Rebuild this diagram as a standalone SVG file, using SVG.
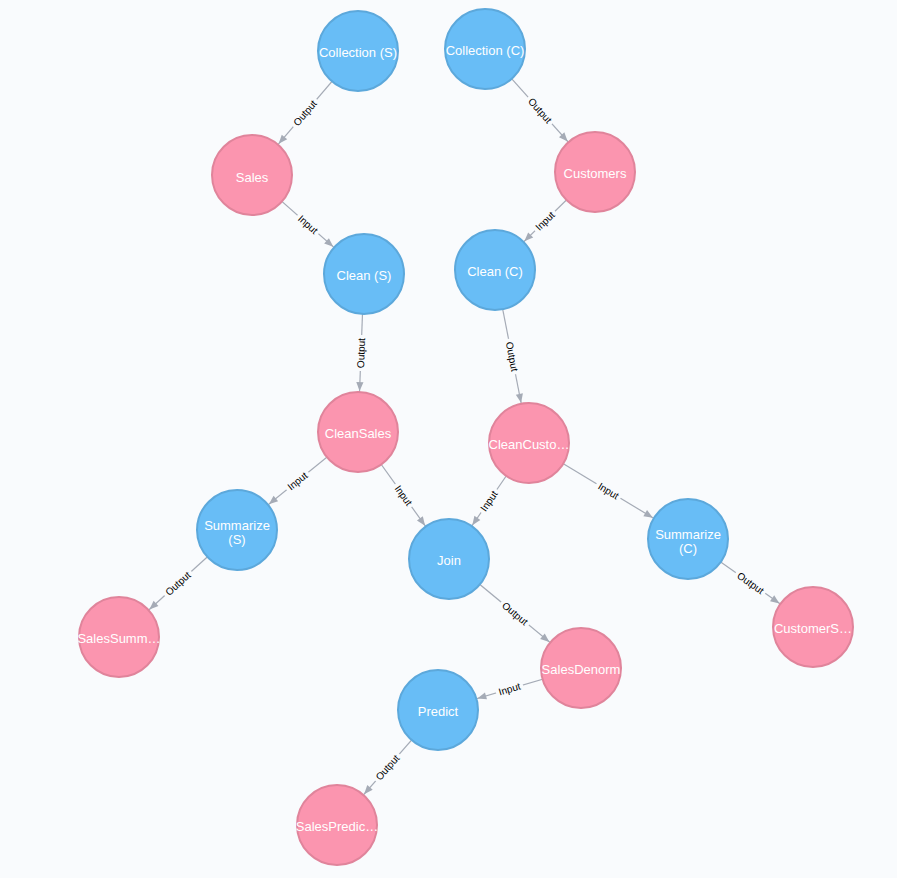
<svg xmlns="http://www.w3.org/2000/svg" width="897" height="878" viewBox="0 0 897 878">
<style>
.bg{fill:#F9FBFD}
.e{stroke:#A5ABB6;stroke-width:1.2;fill:none;marker-end:url(#arr)}
.lb{fill:#F9FBFD}
.lt{font-family:"Liberation Sans",Arial,sans-serif;font-size:10px;fill:#000;text-anchor:middle}
.b circle{fill:#68BDF6;stroke:#5CA8DB;stroke-width:2}
.p circle{fill:#FB95AF;stroke:#E0849B;stroke-width:2}
.n text{font-family:"Liberation Sans",Arial,sans-serif;font-size:13px;fill:#fff;text-anchor:middle}
</style>
<defs>
<marker id="arr" markerUnits="userSpaceOnUse" markerWidth="10" markerHeight="10" viewBox="-10 -5 10 10" refX="41" refY="0" orient="auto">
<path d="M0,0 L-9,-3.6 L-9,3.6 Z" fill="#A5ABB6"/>
</marker>
</defs>
<rect class="bg" x="0" y="0" width="897" height="878"/>
<g id="connectors">
<path class="e" d="M358,51 L252,175"/>
<path class="e" d="M252,175 L364,274"/>
<path class="e" d="M485,49 L595,172"/>
<path class="e" d="M595,172 L495,270"/>
<path class="e" d="M364,274 L358,432"/>
<path class="e" d="M495,270 L529,443"/>
<path class="e" d="M358,432 L237,530"/>
<path class="e" d="M358,432 L449,559"/>
<path class="e" d="M529,443 L449,559"/>
<path class="e" d="M529,443 L688,539"/>
<path class="e" d="M237,530 L119,637"/>
<path class="e" d="M688,539 L813,627"/>
<path class="e" d="M449,559 L581,668"/>
<path class="e" d="M581,668 L438,710"/>
<path class="e" d="M438,710 L337,825"/>
<g transform="translate(305,113) rotate(-49.5)"><rect class="lb" x="-18" y="-5" width="36" height="10"/><text class="lt" y="3.5">Output</text></g>
<g transform="translate(308,224.5) rotate(41.5)"><rect class="lb" x="-14" y="-5" width="28" height="10"/><text class="lt" y="3.5">Input</text></g>
<g transform="translate(540,110.5) rotate(48.2)"><rect class="lb" x="-18" y="-5" width="36" height="10"/><text class="lt" y="3.5">Output</text></g>
<g transform="translate(545,221) rotate(-44.4)"><rect class="lb" x="-14" y="-5" width="28" height="10"/><text class="lt" y="3.5">Input</text></g>
<g transform="translate(361,353) rotate(-87.8)"><rect class="lb" x="-18" y="-5" width="36" height="10"/><text class="lt" y="3.5">Output</text></g>
<g transform="translate(512,356.5) rotate(78.9)"><rect class="lb" x="-18" y="-5" width="36" height="10"/><text class="lt" y="3.5">Output</text></g>
<g transform="translate(297.5,481) rotate(-39)"><rect class="lb" x="-14" y="-5" width="28" height="10"/><text class="lt" y="3.5">Input</text></g>
<g transform="translate(403.5,495.5) rotate(54.4)"><rect class="lb" x="-14" y="-5" width="28" height="10"/><text class="lt" y="3.5">Input</text></g>
<g transform="translate(489,501) rotate(-55.4)"><rect class="lb" x="-14" y="-5" width="28" height="10"/><text class="lt" y="3.5">Input</text></g>
<g transform="translate(608.5,491) rotate(31.1)"><rect class="lb" x="-14" y="-5" width="28" height="10"/><text class="lt" y="3.5">Input</text></g>
<g transform="translate(178,583.5) rotate(-42.2)"><rect class="lb" x="-18" y="-5" width="36" height="10"/><text class="lt" y="3.5">Output</text></g>
<g transform="translate(750.5,583) rotate(35.2)"><rect class="lb" x="-18" y="-5" width="36" height="10"/><text class="lt" y="3.5">Output</text></g>
<g transform="translate(515,613.5) rotate(39.5)"><rect class="lb" x="-18" y="-5" width="36" height="10"/><text class="lt" y="3.5">Output</text></g>
<g transform="translate(509.5,689) rotate(-16.4)"><rect class="lb" x="-14" y="-5" width="28" height="10"/><text class="lt" y="3.5">Input</text></g>
<g transform="translate(387.5,767.5) rotate(-48.7)"><rect class="lb" x="-18" y="-5" width="36" height="10"/><text class="lt" y="3.5">Output</text></g>
</g>
<g id="collection-s" class="n b"><circle cx="358" cy="51" r="40"/><text x="358" y="56.5">Collection (S)</text></g>
<g id="collection-c" class="n b"><circle cx="485" cy="49" r="40"/><text x="485" y="54.5">Collection (C)</text></g>
<g id="sales" class="n p"><circle cx="252" cy="175" r="40"/><text x="252" y="181.5">Sales</text></g>
<g id="customers" class="n p"><circle cx="595" cy="172" r="40"/><text x="595" y="177.5">Customers</text></g>
<g id="clean-s" class="n b"><circle cx="364" cy="274" r="40"/><text x="364" y="279.5">Clean (S)</text></g>
<g id="clean-c" class="n b"><circle cx="495" cy="270" r="40"/><text x="495" y="276">Clean (C)</text></g>
<g id="cleansales" class="n p"><circle cx="358" cy="432" r="40"/><text x="358" y="438">CleanSales</text></g>
<g id="cleancustomers" class="n p"><circle cx="529" cy="443" r="40"/><text x="529" y="448.5">CleanCusto…</text></g>
<g id="summarize-s" class="n b"><circle cx="237" cy="530" r="40"/><text x="237" y="529.5">Summarize</text><text x="237" y="543.5">(S)</text></g>
<g id="join" class="n b"><circle cx="449" cy="559" r="40"/><text x="449" y="565">Join</text></g>
<g id="summarize-c" class="n b"><circle cx="688" cy="539" r="40"/><text x="688" y="538.5">Summarize</text><text x="688" y="552.5">(C)</text></g>
<g id="salessummary" class="n p"><circle cx="119" cy="637" r="40"/><text x="119" y="642.5">SalesSumm…</text></g>
<g id="customersummary" class="n p"><circle cx="813" cy="627" r="40"/><text x="813" y="632.5">CustomerS…</text></g>
<g id="salesdenorm" class="n p"><circle cx="581" cy="668" r="40"/><text x="581" y="673.5">SalesDenorm</text></g>
<g id="predict" class="n b"><circle cx="438" cy="710" r="40"/><text x="438" y="716">Predict</text></g>
<g id="salespredictions" class="n p"><circle cx="337" cy="825" r="40"/><text x="337" y="830.5">SalesPredic…</text></g>
</svg>
